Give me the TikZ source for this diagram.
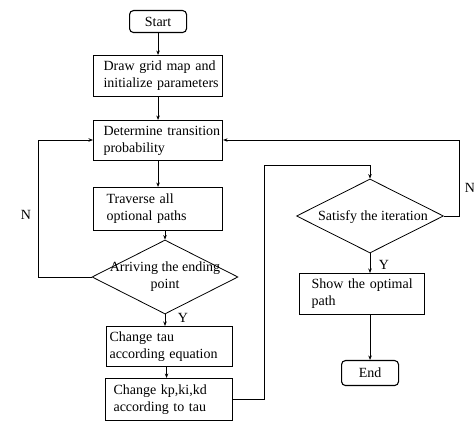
\documentclass[tikz,border=0pt]{standalone}
\usepackage{fontspec}
\setmainfont{Liberation Serif}
\usetikzlibrary{shapes.geometric,arrows.meta}
\begin{document}
\begin{tikzpicture}[x=1pt,y=-1pt,
  every node/.style={font=\fontsize{14}{17}\selectfont},
  box/.style={draw, line width=1.1pt, rectangle, inner ysep=0pt, align=left, anchor=north west},
  term/.style={draw, line width=1.1pt, rectangle, rounded corners=4pt, inner sep=0pt, anchor=north west},
  dia/.style={draw, line width=0.8pt, diamond, inner sep=0pt},
  arr/.style={line width=0.8pt, -{Stealth[length=4.5pt,width=3.5pt]}},
  lbl/.style={inner sep=0pt}
]
\useasboundingbox (0,0) rectangle (474,443);
\node[term, minimum width=57pt, minimum height=22pt] (start) at (129,10) {Start};
\node[box, minimum width=129pt, minimum height=41pt, inner xsep=10pt, text width=109pt] (grid) at (93,55) {\mbox{Draw grid map and}\\\mbox{initialize parameters}};
\node[box, minimum width=129pt, minimum height=40pt, inner xsep=10pt, text width=109pt] (det) at (93,120) {\mbox{Determine transition}\\\mbox{probability}};
\node[box, minimum width=129pt, minimum height=43pt, inner xsep=13pt, text width=103pt] (trav) at (93,187) {\mbox{Traverse all}\\\mbox{optional paths}};
\node[dia, minimum width=146pt, minimum height=74pt] (d1) at (165,277) {};
\node at (d1.center) [align=center, lbl] {Arriving the ending\\point};
\node[box, minimum width=126pt, minimum height=40pt, inner xsep=3pt, text width=120pt] (tau) at (106,326) {\mbox{Change tau}\\\mbox{according equation}};
\node[box, minimum width=127pt, minimum height=42pt, inner xsep=8pt, text width=111pt] (kp) at (105,378) {\mbox{Change kp,ki,kd}\\\mbox{according to tau}};
\node[dia, minimum width=147pt, minimum height=74pt] (d2) at (370,216) {};
\node at ([xshift=3pt,yshift=-1pt]d2.center) [lbl] {Satisfy the iteration};
\node[box, minimum width=125pt, minimum height=41pt, inner xsep=12pt, text width=101pt] (show) at (299,273) {\mbox{Show the optimal}\\\mbox{path}};
\node[term, minimum width=57pt, minimum height=25pt] (end) at (341,360) {End};

\coordinate (nl) at (38,140);
\coordinate (c1) at (264,165);
\coordinate (c2) at (459,140);

\draw[arr] (start) -- (grid);
\draw[arr] (grid) -- (det);
\draw[arr] (det) -- (trav);
\draw[arr] (d1.north |- trav.south) -- (d1.north);
\draw[arr] (d1.south) -- (d1.south |- tau.north);
\draw[arr] ([xshift=-3pt]tau.south) -- ([xshift=-3pt]tau.south |- kp.north);
\draw[arr] (d1.west) -| (nl) -- (det.west |- nl);
\draw[arr] (kp.east) -| (c1) -| (d2.north);
\draw[arr] (d2.east) -| (c2) -- (det.east |- c2);
\draw[arr] (d2.south) -- (d2.south |- show.north);
\draw[arr] (end.north |- show.south) -- (end.north);

\node[lbl] (n1) at (26,215) {N};
\node[lbl] (y1) at (183,318) {Y};
\node[lbl] (y2) at (384,265) {Y};
\node[lbl] (n2) at (470,188) {N};
\end{tikzpicture}
\end{document}
